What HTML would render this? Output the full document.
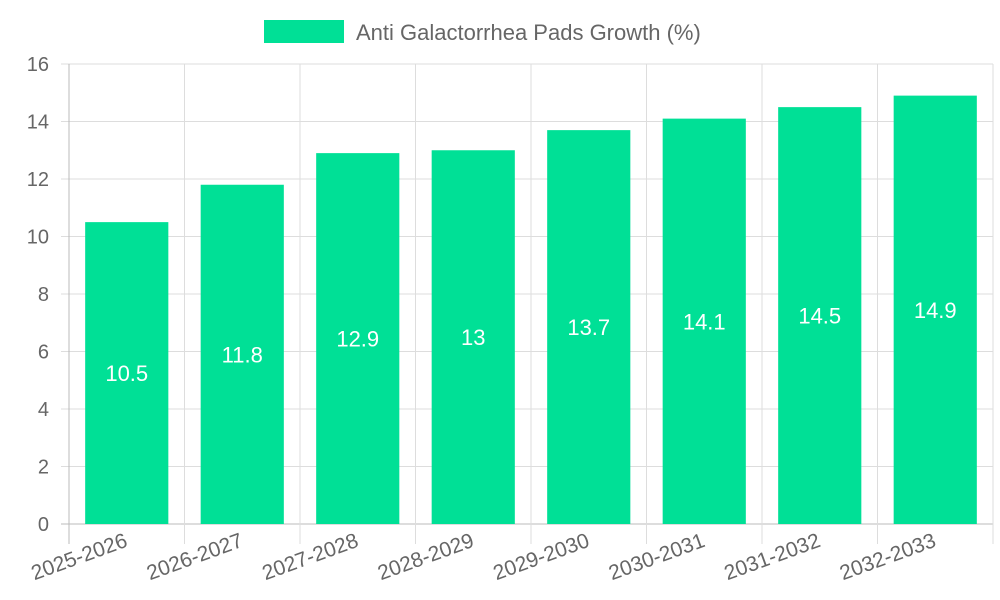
<!DOCTYPE html>
<html><head><meta charset="utf-8"><style>
html,body{margin:0;padding:0;background:#fff;}
svg{display:block;font-family:"Liberation Sans",sans-serif;}
</style></head><body>
<svg id="chart" width="1000" height="600">
<g id="grid"></g>
<g id="bars"></g>
<g id="axes"></g>
<g>
<rect x="264" y="20" width="80" height="23" fill="#00e096"/>
<text x="356" y="40" font-size="22" fill="#666">Anti Galactorrhea Pads Growth (%)</text>
</g>
</svg>
<script>
const categories = ["2025-2026","2026-2027","2027-2028","2028-2029","2029-2030","2030-2031","2031-2032","2032-2033"];
const values = [10.5, 11.8, 12.9, 13, 13.7, 14.1, 14.5, 14.9];
const yTicks = [0, 2, 4, 6, 8, 10, 12, 14, 16];

const NS = "http://www.w3.org/2000/svg";
const L = 69, R = 993, T = 64, B = 524, yMax = 16;
const bandW = (R - L) / categories.length;
const y = v => B - (v / yMax) * (B - T);
const xc = i => L + bandW * (i + 0.5);
function mk(tag, attrs, parent, text) {
  const e = document.createElementNS(NS, tag);
  for (const k in attrs) e.setAttribute(k, attrs[k]);
  if (text !== undefined) e.textContent = text;
  parent.appendChild(e);
  return e;
}
const grid = document.getElementById("grid"), bars = document.getElementById("bars"), axes = document.getElementById("axes");
yTicks.forEach(t => {
  const g = mk("line", {x1: L - 8, x2: R, y1: y(t), y2: y(t), stroke: t === 0 ? "#bbb" : "#ddd", "stroke-width": 1}, grid);
  
  
  const lb = mk("text", {x: L - 20, y: y(t) + 7, "text-anchor": "end", "font-size": 20, fill: "#666"}, axes, String(t));
  
  
});
for (let i = 0; i <= categories.length; i++) {
  const x = L + bandW * i;
  const g = mk("line", {x1: x, x2: x, y1: T, y2: B + 20, stroke: i === 0 ? "#bbb" : "#ddd", "stroke-width": 1}, grid);
  
  
}
const bw = bandW * 0.72;
categories.forEach((c, i) => {
  const r = mk("rect", {x: xc(i) - bw / 2, y: y(values[i]), width: bw, height: B - y(values[i]), fill: "#00e096"}, bars);
  
  
  const v = mk("text", {x: xc(i), y: (y(values[i]) + B) / 2 + 8, "text-anchor": "middle", "font-size": 22, fill: "#fff"}, bars, String(values[i]));
  
  
  const lx = xc(i) + 2, ly = 546;
  const t = mk("text", {x: lx, y: ly, "text-anchor": "end", "font-size": 21, fill: "#666", transform: `rotate(-20 ${lx} ${ly})`}, axes, c);
  
  
});
</script>
</body></html>
